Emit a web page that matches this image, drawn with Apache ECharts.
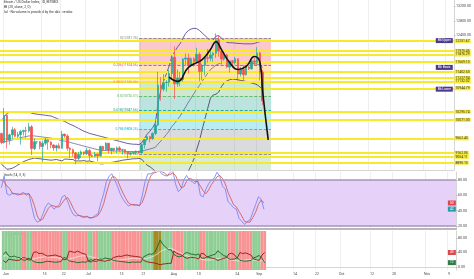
<!DOCTYPE html>
<html><head><meta charset="utf-8">
<script src="https://cdn.jsdelivr.net/npm/echarts@6/dist/echarts.min.js"></script>
<style>html,body{margin:0;padding:0;background:#fff}#c{width:474px;height:279px}</style>
</head><body><div id="c"></div>
<script>
// ---------- categories ----------
const startDay = Date.UTC(2020, 4, 31);
const dayCount = 165;
const dates = [];
for (let i = 0; i < dayCount; i++) dates.push(new Date(startDay + i * 86400000).toISOString().slice(0, 10));

const tickLabels = [['2020-06-01','Jun'],['2020-06-15','15'],['2020-06-22','22'],['2020-07-01','Jul'],['2020-07-13','13'],['2020-07-21','21'],['2020-08-01','Aug'],['2020-08-10','10'],['2020-08-24','24'],['2020-09-01','Sep'],['2020-09-14','14'],['2020-09-22','22'],['2020-10-01','Oct'],['2020-10-12','12'],['2020-10-20','20'],['2020-11-01','Nov'],['2020-11-09','9']];
const priceTicks = [12400, 12800, 13200];

// ---------- candles [open, close, low, high] May 31 .. Sep 3 ----------
const ohlc = [
[9700,9450,9400,9720],[9450,10200,9420,10400],[10200,9520,9280,10230],[9520,9660,9390,9690],[9660,9800,9540,9880],
[9800,9620,9590,9850],[9620,9670,9570,9740],[9670,9750,9390,9800],[9750,9780,9640,9800],[9780,9770,9570,9880],
[9770,9880,9720,9990],[9880,9280,9100,9930],[9280,9470,9240,9560],[9470,9470,9400,9490],[9470,9340,9260,9490],
[9340,9430,8910,9500],[9430,9520,9370,9580],[9520,9460,9250,9540],[9460,9380,9290,9480],[9380,9300,9220,9400],
[9300,9360,9200,9390],[9360,9290,9280,9430],[9290,9680,9280,9770],[9680,9630,9580,9690],[9630,9290,9220,9680],
[9290,9250,9020,9320],[9250,9160,9060,9280],[9160,9010,8850,9190],[9010,9120,8960,9190],[9120,9190,9020,9230],
[9190,9140,9090,9200],[9140,9230,9100,9300],[9230,9090,8940,9270],[9090,9070,9040,9130],[9070,9130,9050,9190],
[9130,9080,8930,9140],[9080,9340,9060,9360],[9340,9250,9200,9360],[9250,9430,9230,9460],[9430,9230,9150,9440],
[9230,9290,9120,9300],[9290,9240,9190,9300],[9240,9300,9160,9340],[9300,9240,9200,9350],[9240,9250,9120,9280],
[9250,9190,9160,9270],[9190,9130,9010,9210],[9130,9150,9090,9180],[9150,9170,9120,9200],[9170,9210,9110,9230],
[9210,9160,9140,9220],[9160,9390,9150,9420],[9390,9530,9280,9540],[9530,9610,9480,9640],[9610,9550,9450,9630],
[9550,9700,9530,9730],[9700,9930,9650,10100],[9930,11030,9900,11400],[11030,10920,10600,11250],[10920,11100,10860,11340],
[11100,11110,10850,11170],[11110,11350,10990,11450],[11350,11800,11220,11860],[11800,11070,10650,12100],[11070,11230,10990,11470],
[11230,11190,11000,11400],[11190,11750,11120,11780],[11750,11780,11570,11900],[11780,11590,11350,11900],[11590,11760,11550,11800],
[11760,11680,11540,11800],[11680,11880,11650,12060],[11880,11410,11140,11940],[11410,11580,11170,11620],[11580,11790,11300,11800],
[11790,11770,11650,12030],[11770,11860,11690,11980],[11860,11910,11680,11940],[11910,12280,11780,12460],[12280,11970,11820,12390],
[11970,11750,11600,12030],[11750,11860,11700,11890],[11860,11530,11500,11890],[11530,11680,11380,11690],[11680,11650,11570,11720],
[11650,11760,11600,11810],[11760,11340,11150,11760],[11340,11470,11270,11530],[11470,11320,11140,11580],[11320,11530,11300,11550],
[11530,11480,11450,11570],[11480,11700,11460,11720],[11700,11660,11580,11780],[11660,11920,11610,12080],[11920,11390,11160,11950],
[11390,10600,10480,11450]
];

// ---------- Bollinger bands ----------
const bbUpper = [10050,10150,10250,10280,10300,10300,10290,10290,10280,10270,10280,10260,10240,10230,10220,10210,10200,10190,10180,10150,10120,10080,
10060,10030,9990,9950,9920,9880,9840,9800,9760,9730,9700,9680,9660,9640,9620,9600,9580,9560,9540,9520,9500,9480,9460,9440,9420,9410,9400,9400,9390,
9440,9560,9680,9760,9860,9990,10550,10900,11150,11350,11560,11820,11950,12080,12180,12330,12460,12540,12580,12600,12590,12540,12470,12400,12330,12250,
12280,12380,12400,12330,12260,12210,12200,12200,12190,12180,12180,12170,12170,12170,12170,12180,12210,12230,12260];
const bbBasis = [9450,9470,9480,9500,9520,9540,9560,9580,9600,9610,9630,9630,9630,9620,9610,9600,9590,9580,9570,9560,9550,
9520,9500,9490,9470,9450,9430,9410,9390,9370,9350,9330,9310,9290,9270,9250,9240,9230,9225,9220,9220,
9215,9215,9210,9210,9205,9200,9200,9200,9200,9200,9215,9230,9250,9270,9290,9320,9410,9490,9580,9670,
9770,9890,9980,10080,10180,10310,10430,10560,10680,10800,10920,11020,11140,11250,11360,11460,11520,11580,11620,11660,
11680,11680,11690,11700,11690,11680,11670,11660,11650,11640,11630,11620,11610,11580,11520];
const bbLower = [8850,8790,8710,8720,8740,8780,8830,8870,8920,8950,8980,9000,9020,9010,9000,8990,8980,8970,8960,8970,8980,
8960,8940,8990,8990,8980,8980,8940,8940,8940,8950,8930,8940,8920,8900,8880,8860,8860,8890,8880,8900,
8910,8930,8940,8960,8970,8980,8990,9000,9000,9010,8990,8900,8820,8780,8720,8650,8270,8080,8010,7980,
7980,7960,8010,8080,8180,8290,8400,8660,8820,9000,9250,9500,9810,10100,10390,10670,10760,10780,10840,10990,
11100,11150,11180,11200,11190,11180,11160,11150,11130,11110,11090,11070,11040,10980,10920];

// ---------- hand drawn path ----------
const pathPoints = [['2020-07-31',11250],['2020-08-03',11136],['2020-08-07',11519],['2020-08-12',11738],['2020-08-15',12012],['2020-08-17',12230],
['2020-08-19',12012],['2020-08-22',11656],['2020-08-25',11464],['2020-08-28',11546],['2020-08-31',11820],['2020-09-02',11656],['2020-09-03',10835],['2020-09-05',9521]];

// ---------- fib retracement ----------
const fibRatios = [0, 0.236, 0.382, 0.5, 0.618, 0.786, 1];
const fibPrices = [12331.76, 11574.06, 11105.36, 10726.51, 10347.66, 9808.26, 9121.26];
const fibColors = ['#787b86','#f23645','#ff9800','#4caf50','#089981','#00bcd4','#787b86'];
const fibStart = '2020-07-20', fibEnd = '2020-09-06';

// ---------- horizontal levels ----------
const levels = [12251.67, 11975.45, 11876.29, 11669.10, 11402.50, 11227.94, 11132.02, 10944.79, 10295.74, 10071.00, 9562.40, 9162.05, 9054.11, 8890.15];
const priceTags = [10600.35, 10454.22];

// ---------- stochastic ----------
const stochK = [70,85,62,60,63,62,60,62,64,60,62,45,30,25,27,35,45,50,47,42,45,48,58,60,52,42,35,33,34,32,31,33,30,31,34,36,50,62,78,85,88,80,72,62,55,50,46,48,47,48,46,
60,78,88,88,90,92,93,88,86,85,90,93,75,65,68,80,86,80,78,75,80,60,58,68,75,80,82,90,85,72,68,52,48,44,42,30,26,22,26,28,38,48,58,55,42];
const stochD = [80,78,72,69,62,62,62,61,62,62,62,56,46,33,27,29,36,43,47,46,45,45,50,55,57,51,43,37,34,33,32,32,31,31,32,34,40,49,63,75,84,84,80,71,63,56,50,48,48,47,47,
51,61,75,85,89,90,92,91,89,86,87,89,86,78,70,71,78,82,81,78,78,72,66,62,67,74,79,84,86,82,75,64,56,48,45,39,33,26,25,25,31,38,48,54,50];

// ---------- ADX / DI ----------
const diPlus = [35,42,30,28,30,27,26,20,18,24,22,15,13,12,12,14,16,15,14,13,14,15,26,24,17,15,14,12,13,14,13,18,20,16,15,22,21,25,23,22,
18,17,16,15,14,13,12,14,13,14,13,28,32,36,35,40,55,75,62,55,48,47,35,30,28,30,38,40,36,35,33,36,25,24,28,30,33,35,45,38,32,29,22,21,22,26,18,17,16,17,18,25,28,32,24,12];
const diMinus = [18,12,22,20,19,18,19,26,25,20,19,40,42,37,38,34,30,31,32,33,30,29,20,21,44,42,40,44,40,37,35,15,14,20,22,18,17,16,18,19,
26,28,30,29,32,33,31,30,29,28,27,18,15,13,12,11,9,6,8,9,10,10,44,38,35,32,26,24,27,26,25,22,38,36,28,26,24,22,18,21,24,25,36,38,34,24,40,37,39,36,33,22,20,18,33,40];
const adxLine = [30,31,30,29,28,27,26,25,24,23,22,22,24,26,27,28,28,27,27,26,25,24,22,21,22,24,26,28,30,31,31,30,28,26,24,22,20,19,18,17,17,
18,19,20,21,22,23,24,24,24,24,23,23,25,28,31,36,42,46,49,51,52,48,44,40,36,33,30,28,26,24,23,21,20,19,19,20,21,23,24,24,23,21,19,18,17,17,18,19,20,20,19,18,17,17,18];
const adxZone = 'gggggggrrggrrrrrrrrrrrggrrrrrrrggrrgggggrrrrrrrrrrrggggoooggggrrrrggggggrrggggggggrrrgrrrrrgggrr';

// ---------- helpers ----------
function rgba(hex, a) { const n = parseInt(hex.slice(1), 16); return `rgba(${n>>16&255},${n>>8&255},${n&255},${a})`; }
const tickMap = Object.fromEntries(tickLabels);
const FS = 3.6, TXT = '#4a4a4a', GRID = '#eeeef2', FONT = 'Roboto, "Liberation Sans", sans-serif';
const tagIdx = dates[163], bbTagIdx = dates[161];
const last = a => a[a.length - 1];

const fibAreas = [];
for (let i = 0; i < fibPrices.length - 1; i++) {
  fibAreas.push([{ coord: [fibStart, fibPrices[i]], itemStyle: { color: rgba(fibColors[i + 1], 0.27) } }, { coord: [fibEnd, fibPrices[i + 1]] }]);
}
fibAreas.push([{ coord: [fibStart, fibPrices[fibPrices.length - 1]], itemStyle: { color: rgba('#4caf50', 0.22) } }, { coord: [fibEnd, 8690] }]);
const fibLines = fibPrices.map((p, i) => [
  { coord: [fibStart, p], lineStyle: { color: fibColors[i], width: 0.8 },
    label: { show: true, position: 'start', distance: 1, formatter: fibRatios[i] + '(' + p.toFixed(2) + ')', color: fibColors[i], fontSize: 3.3, fontFamily: FONT, padding: [0, 0, 3, 0] } },
  { coord: [fibEnd, p] }
]);

function tag(coordX, v, text, bg, w) {
  return { coord: [coordX, v], symbol: 'rect', symbolSize: [w, 5], itemStyle: { color: bg },
    label: { show: true, position: 'inside', formatter: text, color: '#fff', fontSize: 3.2, fontFamily: FONT } };
}

const xAxisBase = (gi, showLabels) => ({
  type: 'category', gridIndex: gi, data: dates, boundaryGap: true,
  axisLine: { show: true, lineStyle: { color: gi === 1 ? '#b8b8b8' : '#d6d6d6', width: gi === 1 ? 2 : 1 } },
  axisTick: { show: false },
  axisLabel: { show: showLabels, interval: (i, v) => v in tickMap, formatter: v => tickMap[v] || '', fontSize: FS, color: TXT, margin: 2.5, fontFamily: FONT },
  splitLine: { show: true, interval: (i, v) => v in tickMap, lineStyle: { color: GRID, width: 1 } }
});
const yAxisBase = (gi, min, max, custom) => ({
  type: 'value', gridIndex: gi, position: 'right', min, max, scale: true,
  axisLine: { show: true, lineStyle: { color: '#d6d6d6' } },
  axisTick: { show: true, customValues: custom, length: 1.5, lineStyle: { color: '#bbb' } },
  axisLabel: { customValues: custom, formatter: v => v.toFixed(2), fontSize: FS, color: TXT, margin: 2, fontFamily: FONT },
  splitLine: { show: false }
});

const option = {
  animation: false,
  backgroundColor: '#ffffff',
  grid: [
    { left: 0, right: 18, top: 0, height: 170 },
    { left: 0, right: 18, top: 172, height: 57 },
    { left: 0, right: 18, top: 231, height: 39 }
  ],
  xAxis: [xAxisBase(0, false), xAxisBase(1, false), xAxisBase(2, true)],
  yAxis: [yAxisBase(0, 8690, 13380, priceTicks), yAxisBase(1, 16.1, 90.4, [20, 40, 60, 80]), yAxisBase(2, -8.3, 99.3, [0, 40, 80])],
  graphic: [
    { type: 'text', left: 3, top: 1, style: { text: 'Bitcoin / US Dollar Index, 1D, BITMEX', fontSize: 3.4, fill: '#333', fontFamily: FONT } },
    { type: 'text', left: 3, top: 6, style: { text: 'BB (20, close, 2, 0)', fontSize: 3.4, fill: '#333', fontFamily: FONT } },
    { type: 'text', left: 3, top: 11, style: { text: 'Vol · No volume is provided by the data vendor.', fontSize: 3.4, fill: '#333', fontFamily: FONT } },
    { type: 'text', left: 3, top: 173.5, style: { text: 'Stoch (14, 3, 3)', fontSize: 3.4, fill: '#333', fontFamily: FONT } },
    { type: 'text', left: 3, top: 233, style: { text: 'ADX and DI (14, 3, 10)', fontSize: 3.4, fill: '#333', fontFamily: FONT } }
  ],
  series: [
    { name: 'fib', type: 'line', xAxisIndex: 0, yAxisIndex: 0, data: [], z: 1, silent: true,
      markArea: { silent: true, data: fibAreas },
      markLine: { silent: true, symbol: 'none', data: fibLines } },
    { name: 'levels', type: 'line', xAxisIndex: 0, yAxisIndex: 0, data: [], z: 2, silent: true,
      markLine: { silent: true, symbol: 'none', lineStyle: { color: '#f7ea2c', width: 2, type: 'solid' },
        label: { show: true, position: 'end', distance: 0.5, formatter: p => p.value.toFixed(2), backgroundColor: '#f7ea2c', color: '#333', fontSize: 3.4, padding: [0.5, 1], fontFamily: FONT },
        data: levels.map(v => ({ yAxis: v })).concat(priceTags.map(v => ({ yAxis: v, lineStyle: { opacity: 0 }, label: { backgroundColor: '#ef5350', color: '#fff' } }))) } },
    { name: 'price', type: 'candlestick', xAxisIndex: 0, yAxisIndex: 0, data: ohlc.map(d => [d[0], d[1], d[2], d[3]]), z: 5, barWidth: 2,
      itemStyle: { color: '#26a69a', color0: '#ef5350', borderColor: '#26a69a', borderColor0: '#ef5350', borderWidth: 0.7 } },
    { name: 'upper', type: 'line', xAxisIndex: 0, yAxisIndex: 0, data: bbUpper, symbol: 'none', z: 4, lineStyle: { color: '#5a4a9e', width: 0.9 },
      markPoint: { data: [tag(bbTagIdx, last(bbUpper), 'Bb Upper', '#4b3b8f', 17)] } },
    { name: 'basis', type: 'line', xAxisIndex: 0, yAxisIndex: 0, data: bbBasis, symbol: 'none', z: 4, lineStyle: { color: '#5a5190', width: 0.7 },
      markPoint: { data: [tag(bbTagIdx, last(bbBasis), 'Bb Basis', '#4b3b8f', 17)] } },
    { name: 'lower', type: 'line', xAxisIndex: 0, yAxisIndex: 0, data: bbLower, symbol: 'none', z: 4, lineStyle: { color: '#3b3560', width: 0.8 },
      markPoint: { data: [tag(bbTagIdx, last(bbLower), 'Bb Lower', '#4b3b8f', 17)] } },
    { name: 'path', type: 'line', xAxisIndex: 0, yAxisIndex: 0, data: pathPoints, symbol: 'none', smooth: 0.5, z: 6, lineStyle: { color: '#111', width: 1.6 } },

    { name: 'stochBand', type: 'line', xAxisIndex: 1, yAxisIndex: 1, data: [], silent: true, z: 1,
      markArea: { silent: true, itemStyle: { color: '#e6d2f8' }, data: [[{ yAxis: 20 }, { yAxis: 80 }]] },
      markLine: { silent: true, symbol: 'none', label: { show: false }, lineStyle: { color: '#a395bd', width: 1.5, type: 'solid' }, data: [{ yAxis: 80 }, { yAxis: 20 }] } },
    { name: '%K', type: 'line', xAxisIndex: 1, yAxisIndex: 1, data: stochK, symbol: 'none', z: 3, lineStyle: { color: '#6f7cf2', width: 0.8 },
      markPoint: { data: [tag(tagIdx, last(stochK), String(last(stochK)), '#2a9ba8', 8)] } },
    { name: '%D', type: 'line', xAxisIndex: 1, yAxisIndex: 1, data: stochD, symbol: 'none', z: 3, lineStyle: { color: '#d0504c', width: 0.8 },
      markPoint: { data: [tag(tagIdx, last(stochD), String(last(stochD)), '#e0474c', 8)] } },

    { name: 'zoneUp', type: 'bar', xAxisIndex: 2, yAxisIndex: 2, barCategoryGap: '0%', barGap: '-100%', silent: true, z: 1,
      data: adxZone.split('').map(c => ({ value: 99.3, itemStyle: { color: c === 'g' ? '#8fce94' : c === 'r' ? '#f99393' : '#a38b25' } })) },
    { name: 'zoneDn', type: 'bar', xAxisIndex: 2, yAxisIndex: 2, barCategoryGap: '0%', barGap: '-100%', silent: true, z: 1,
      data: adxZone.split('').map(c => ({ value: -8.3, itemStyle: { color: c === 'g' ? '#8fce94' : c === 'r' ? '#f99393' : '#a38b25' } })) },
    { name: 'ADX', type: 'line', xAxisIndex: 2, yAxisIndex: 2, data: adxLine, symbol: 'none', z: 3, lineStyle: { color: '#ffffff', width: 0.8, opacity: 0.7 } },
    { name: 'DI+', type: 'line', xAxisIndex: 2, yAxisIndex: 2, data: diPlus, symbol: 'none', z: 3, lineStyle: { color: '#1f6e2c', width: 1 },
      markPoint: { data: [tag(tagIdx, last(diPlus), String(last(diPlus)), '#2e7d4a', 8)] } },
    { name: 'DI-', type: 'line', xAxisIndex: 2, yAxisIndex: 2, data: diMinus, symbol: 'none', z: 3, lineStyle: { color: '#a3201c', width: 1 },
      markPoint: { data: [tag(tagIdx, last(diMinus), String(last(diMinus)), '#e0474c', 8)] } }
  ]
};
const chart = echarts.init(document.getElementById('c'), null, { renderer: 'canvas' });
chart.setOption(option);
</script></body></html>
